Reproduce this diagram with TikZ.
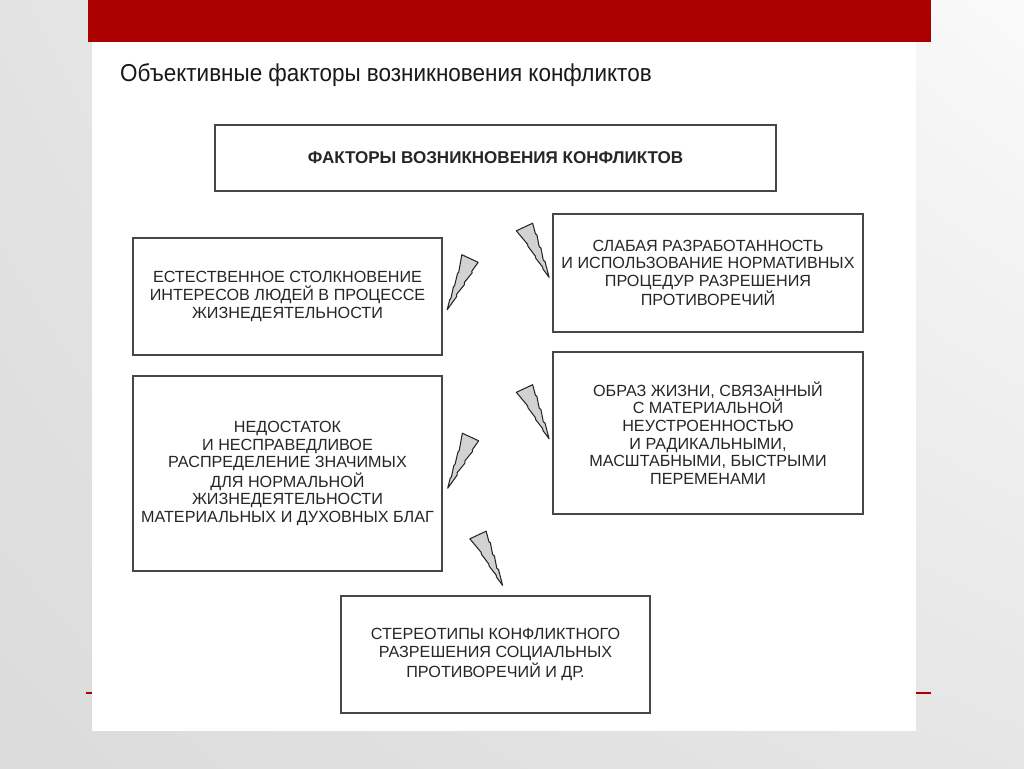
\documentclass[tikz,border=0pt]{standalone}
\usepackage{fontspec}
\setmainfont{Liberation Sans}
\newfontfamily\titlefont[FakeStretch=0.92]{Liberation Sans}
\usetikzlibrary{arrows.meta, positioning, shadings}

\definecolor{slidered}{RGB}{170,0,0}
\definecolor{boltgray}{RGB}{210,210,210}

\begin{document}
\begin{tikzpicture}[
    x=0.02cm, y=-0.02cm,
    >=Stealth,
    factor/.style={rectangle, draw=black!72, line width=0.8pt, fill=white, align=center, inner sep=2pt, minimum width=6.18cm, minimum height=2.34cm, font=\fontsize{9.2}{10}\selectfont, text=black!85},
    bolt/.pic={
        \draw[black!85, line width=0.6pt, fill=boltgray, line join=round]
            (-9,0) -- (9,0) -- (7,11) -- (8,12) -- (5,24) -- (6,26) -- (3,38) -- (4,40) -- (1,56)
            -- (-1,46) -- (-0.5,44) -- (-3,33) -- (-2.5,31) -- (-5,19) -- (-4.5,17) -- cycle;
    }
]

    % Slide ------------------------------------------------------

    \useasboundingbox (0,0) rectangle (1024,768);
    \shade[upper left=gray!22, upper right=gray!4, lower left=gray!28, lower right=gray!20] (0,0) rectangle (1024,768);
    \draw[slidered, line width=1.2pt] (86,693) -- (931,693);
    \fill[white] (92,42) rectangle (916,731);
    \fill[slidered] (88,0) rectangle (931,42);

    % Nodes ------------------------------------------------------

    \node[anchor=west, font=\titlefont\fontsize{13.9}{16}\selectfont, text=black!90] (title) at (114,75) {Объективные факторы возникновения конфликтов};
    \node[factor, minimum width=11.22cm, minimum height=1.32cm, font=\bfseries\fontsize{9.7}{10}\selectfont] (head) at (495.5,158) {ФАКТОРЫ ВОЗНИКНОВЕНИЯ КОНФЛИКТОВ};
    \node[factor] (f1) at (287.5,296.5) {ЕСТЕСТВЕННОЕ СТОЛКНОВЕНИЕ\\ИНТЕРЕСОВ ЛЮДЕЙ В ПРОЦЕССЕ\\ЖИЗНЕДЕЯТЕЛЬНОСТИ};
    \node[factor, minimum width=6.2cm, minimum height=2.36cm] (f2) at (708,273) {СЛАБАЯ РАЗРАБОТАННОСТЬ\\И ИСПОЛЬЗОВАНИЕ НОРМАТИВНЫХ\\ПРОЦЕДУР РАЗРЕШЕНИЯ\\ПРОТИВОРЕЧИЙ};
    \node[factor, minimum height=3.9cm] (f3) at (287.5,473.5) {НЕДОСТАТОК\\И НЕСПРАВЕДЛИВОЕ\\РАСПРЕДЕЛЕНИЕ ЗНАЧИМЫХ\\ДЛЯ НОРМАЛЬНОЙ\\ЖИЗНЕДЕЯТЕЛЬНОСТИ\\МАТЕРИАЛЬНЫХ И ДУХОВНЫХ БЛАГ};
    \node[factor, minimum width=6.2cm, minimum height=3.24cm] (f4) at (708,433) {ОБРАЗ ЖИЗНИ, СВЯЗАННЫЙ\\С МАТЕРИАЛЬНОЙ\\НЕУСТРОЕННОСТЬЮ\\И РАДИКАЛЬНЫМИ,\\МАСШТАБНЫМИ, БЫСТРЫМИ\\ПЕРЕМЕНАМИ};
    \node[factor] (f5) at (495.5,654.5) {СТЕРЕОТИПЫ КОНФЛИКТНОГО\\РАЗРЕШЕНИЯ СОЦИАЛЬНЫХ\\ПРОТИВОРЕЧИЙ И ДР.};

    % Bolts ------------------------------------------------------

    \pic[rotate=-25] at (470,258.5) {bolt};
    \pic[rotate=25] at (524.5,227) {bolt};
    \pic[rotate=-25] at (470.5,437) {bolt};
    \pic[rotate=25] at (524.5,388.5) {bolt};
    \pic[rotate=25] at (478,535) {bolt};

\end{tikzpicture}
\end{document}
